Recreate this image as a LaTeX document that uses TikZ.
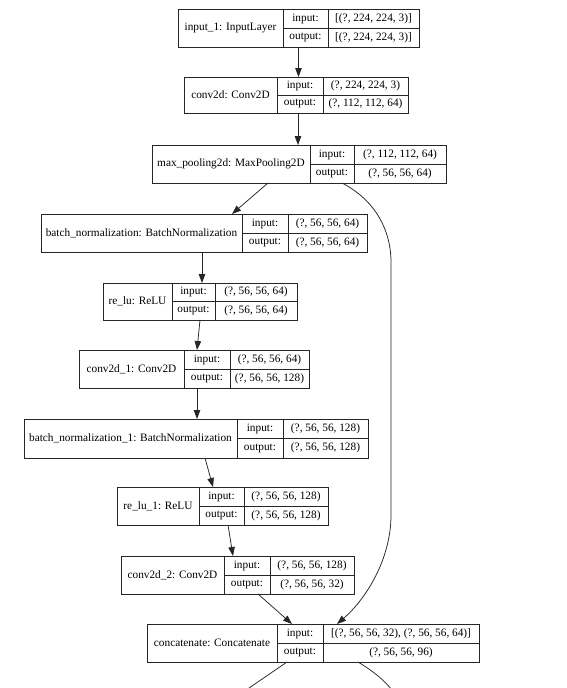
\documentclass[tikz,border=0pt]{standalone}
\usepackage{fontspec}
\setmainfont{Liberation Serif}
\usetikzlibrary{arrows.meta}
\tikzset{
  box/.style={draw=black!85, line width=0.8pt, inner sep=0pt, outer sep=0pt, rectangle},
  cellline/.style={draw=black!85, line width=0.8pt},
  txt/.style={inner sep=0pt, font=\fontsize{11.3}{13}\selectfont, text=black},
  edge/.style={draw=black!85, line width=0.75pt, -{Triangle[length=9pt,width=6.5pt]}}
}
\begin{document}
\begin{tikzpicture}[x=1pt,y=-1pt]
\useasboundingbox (0,0) rectangle (566,688);
\fill[white] (0,0) rectangle (566,688);
\clip (0,0) rectangle (566,688);
\foreach \n/\xa/\ya/\xb/\yb/\da/\db/\lab/\inp/\outp in {
  in1/178/9/419/47/283/328/{input\_1: InputLayer}/{[(?, 224, 224, 3)]}/{[(?, 224, 224, 3)]},
  c1/184/77/408/113/277/323/{conv2d: Conv2D}/{(?, 224, 224, 3)}/{(?, 112, 112, 64)},
  mp/152/145/446/183/310/354/{max\_pooling2d: MaxPooling2D}/{(?, 112, 112, 64)}/{(?, 56, 56, 64)},
  bn/41/214/367/252/242/288/{batch\_normalization: BatchNormalization}/{(?, 56, 56, 64)}/{(?, 56, 56, 64)},
  rl/103/283/297/320/172/215/{re\_lu: ReLU}/{(?, 56, 56, 64)}/{(?, 56, 56, 64)},
  c2/79/350/309/388/184/230/{conv2d\_1: Conv2D}/{(?, 56, 56, 64)}/{(?, 56, 56, 128)},
  bnb/24/419/368/458/237/283/{batch\_normalization\_1: BatchNormalization}/{(?, 56, 56, 128)}/{(?, 56, 56, 128)},
  rlb/117/487/328/525/199/244/{re\_lu\_1: ReLU}/{(?, 56, 56, 128)}/{(?, 56, 56, 128)},
  c3/121/556/354/594/224/270/{conv2d\_2: Conv2D}/{(?, 56, 56, 128)}/{(?, 56, 56, 32)},
  cc/147/624/479/662/277/323/{concatenate: Concatenate}/{[(?, 56, 56, 32), (?, 56, 56, 64)]}/{(?, 56, 56, 96)}
}{
  \pgfmathsetmacro\ym{(\ya+\yb)/2}
  \node[box, minimum width={(\xb-\xa)*1pt}, minimum height={(\yb-\ya)*1pt}] (\n) at ({(\xa+\xb)/2},\ym) {};
  \draw[cellline] (\da,\ya) -- (\da,\yb) (\db,\ya) -- (\db,\yb) (\da,\ym) -- (\xb,\ym);
  \node[txt] (\n-l) at ({(\xa+\da)/2},\ym) {\lab};
  \node[txt] (\n-ik) at ({(\da+\db)/2},{(\ya+\ym)/2}) {input:};
  \node[txt] (\n-ok) at ({(\da+\db)/2},{(\ym+\yb)/2}) {output:};
  \node[txt] (\n-iv) at ({(\db+\xb)/2},{(\ya+\ym)/2}) {\inp};
  \node[txt] (\n-ov) at ({(\db+\xb)/2},{(\ym+\yb)/2}) {\outp};
}
\coordinate (outa) at (233,699);
\coordinate (outb) at (402,712);
\draw[edge] (in1.south) -- (in1.south |- c1.north);
\draw[edge] ([xshift=2pt]c1.south) -- ([xshift=2pt]c1.south |- mp.north);
\draw[edge] ([xshift=-31pt]mp.south) -- ([xshift=28pt]bn.north);
\draw[edge] ([xshift=43pt]mp.south) .. controls (375,200) and (391,230) .. (391,262)
  -- (391,515) .. controls (391,560) and (365,600) .. ([xshift=24pt]cc.north);
\draw[edge] ([xshift=-2pt]bn.south) -- ([xshift=2pt]rl.north);
\draw[edge] (rl.south) -- ([xshift=3pt]c2.north);
\draw[edge] ([xshift=3pt]c2.south) -- ([xshift=1pt]bnb.north);
\draw[edge] ([xshift=9pt]bnb.south) -- ([xshift=-9.5pt]rlb.north);
\draw[edge] ([xshift=5.5pt]rlb.south) -- ([xshift=-4.5pt]c3.north);
\draw[edge] ([xshift=20.5pt]c3.south) -- ([xshift=-21pt]cc.north);
\draw[edge] ([xshift=-26pt]cc.south) -- (outa);
\draw[edge] ([xshift=45pt]cc.south) .. controls (380,675) and (395,690) .. (outb);
\end{tikzpicture}
\end{document}
